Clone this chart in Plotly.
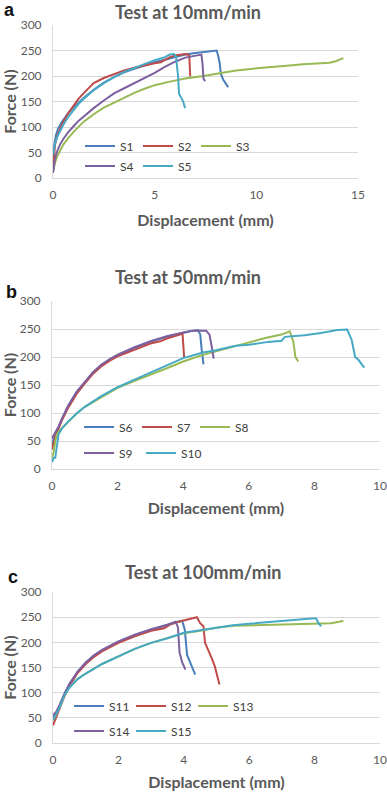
import plotly.graph_objects as go

W, H = 387, 792

# ---------------- Panel a: Test at 10mm/min ----------------
s1_x = [0, 0.03, 0.08, 0.15, 0.25, 0.4, 0.6, 0.8, 1, 1.25, 1.5, 2, 2.5, 3, 3.5, 4, 4.5, 5, 5.5, 6, 6.5, 7, 7.5, 8.05, 8.12, 8.2, 8.25, 8.3, 8.38, 8.5, 8.62]
s1_y = [38, 55, 70, 85, 97, 108, 120, 130, 138, 148, 157, 173, 187, 198, 207, 214, 221, 227, 232, 237, 242, 245, 247, 250, 240, 225, 205, 199, 192, 185, 178]
s2_x = [0, 0.05, 0.1, 0.2, 0.35, 0.5, 0.75, 1, 1.25, 1.5, 1.75, 2, 2.5, 3, 3.5, 4, 4.5, 5, 5.3, 5.5, 5.75, 6, 6.3, 6.5, 6.7, 6.72, 6.75]
s2_y = [20, 45, 65, 82, 98, 110, 127, 142, 155, 166, 176, 186, 196, 204, 211, 216, 221, 225, 227, 232, 237, 240, 242, 243, 241, 215, 199]
s3_x = [0, 0.05, 0.1, 0.2, 0.35, 0.5, 0.75, 1, 1.5, 2, 2.5, 3, 3.5, 4, 4.5, 5, 5.75, 6.5, 7.4, 8, 9, 10, 10.7, 11.5, 12.3, 13, 13.6, 13.9, 14.1, 14.28]
s3_y = [12, 22, 30, 42, 55, 65, 78, 90, 110, 125, 138, 148, 158, 167, 175, 182, 189, 195, 200, 204, 211, 215, 218, 220, 223, 225, 226, 229, 232, 235]
s4_x = [0, 0.05, 0.1, 0.2, 0.35, 0.5, 0.75, 1, 1.25, 1.5, 2, 2.5, 3, 3.5, 4, 4.5, 5, 5.5, 6, 6.5, 7, 7.3, 7.35, 7.4, 7.48]
s4_y = [10, 25, 38, 52, 66, 76, 90, 101, 112, 120, 137, 152, 166, 176, 186, 197, 206, 218, 228, 236, 239, 242, 225, 195, 190]
s5_x = [0, 0.03, 0.1, 0.2, 0.35, 0.5, 0.75, 1, 1.25, 1.5, 2, 2.5, 3, 3.5, 4, 4.5, 5, 5.5, 5.75, 5.95, 6.05, 6.15, 6.2, 6.3, 6.4, 6.5]
s5_y = [45, 55, 68, 80, 93, 104, 120, 133, 145, 155, 172, 186, 198, 208, 216, 224, 231, 237, 242, 243, 238, 200, 165, 158, 150, 137]

# ---------------- Panel b: Test at 50mm/min ----------------
s6_x = [0, 0.05, 0.1, 0.2, 0.3, 0.5, 0.75, 1, 1.25, 1.5, 1.75, 2, 2.5, 3, 3.5, 4, 4.2, 4.45, 4.52, 4.56, 4.6, 4.62]
s6_y = [40, 55, 62, 74, 89, 113, 137, 155, 172, 185, 195, 203, 216, 227, 236, 243, 246, 248, 240, 215, 195, 187]
s7_x = [0, 0.05, 0.1, 0.2, 0.3, 0.5, 0.75, 1, 1.25, 1.5, 1.75, 2, 2.5, 3, 3.3, 3.5, 3.9, 3.98, 4.01, 4.03]
s7_y = [35, 48, 58, 72, 87, 110, 134, 153, 170, 183, 193, 201, 213, 224, 228, 233, 240, 242, 215, 198]
s8_x = [0, 0.05, 0.1, 0.15, 0.25, 0.5, 0.75, 1, 1.5, 2, 2.5, 3, 3.5, 4, 4.5, 5, 5.5, 6, 6.5, 7, 7.25, 7.36, 7.42, 7.51]
s8_y = [20, 30, 50, 62, 70, 85, 99, 111, 128, 145, 157, 168, 180, 192, 202, 210, 218, 226, 234, 240, 246, 227, 200, 192]
s9_x = [0, 0.05, 0.1, 0.2, 0.3, 0.5, 0.75, 1, 1.25, 1.5, 1.75, 2, 2.5, 3, 3.5, 4, 4.3, 4.7, 4.8, 4.85, 4.9, 4.93]
s9_y = [55, 60, 65, 76, 90, 114, 138, 156, 173, 186, 196, 204, 217, 228, 237, 244, 247, 247, 240, 225, 205, 197]
s10_x = [0, 0.05, 0.1, 0.15, 0.2, 0.3, 0.5, 0.75, 1, 1.5, 2, 2.5, 3, 3.5, 4, 4.6, 5, 5.6, 6, 6.6, 7, 7.1, 7.7, 8.2, 8.7, 9.0, 9.14, 9.24, 9.34, 9.52]
s10_y = [12, 20, 20, 45, 62, 72, 85, 99, 111, 130, 146, 159, 172, 185, 198, 208, 212, 220, 222, 227, 229, 236, 239, 243, 248, 249, 230, 200, 195, 181]

# ---------------- Panel c: Test at 100mm/min ----------------
s11_x = [0, 0.1, 0.2, 0.35, 0.5, 0.75, 1, 1.25, 1.5, 2, 2.5, 3, 3.5, 3.75, 3.95, 4.03, 4.1, 4.2, 4.35]
s11_y = [50, 60, 74, 97, 116, 141, 159, 173, 184, 201, 214, 225, 235, 240, 243, 225, 175, 160, 136]
s12_x = [0, 0.1, 0.2, 0.35, 0.5, 0.75, 1, 1.25, 1.5, 2, 2.5, 3, 3.4, 3.6, 3.9, 4.1, 4.3, 4.4, 4.5, 4.6, 4.65, 4.75, 4.85, 4.95, 5.0, 5.09]
s12_y = [35, 52, 70, 93, 113, 139, 157, 171, 182, 199, 212, 223, 228, 236, 242, 245, 248, 250, 238, 232, 199, 185, 169, 152, 139, 116]
s13_x = [0, 0.2, 0.35, 0.5, 0.75, 1, 1.5, 2, 2.5, 3, 3.5, 4, 4.5, 5, 5.5, 6, 6.5, 7, 7.5, 8, 8.5, 8.75, 8.88]
s13_y = [45, 70, 95, 110, 127, 138, 157, 172, 187, 199, 208, 218, 223, 229, 233, 234, 235, 236, 237, 238, 238, 241, 243]
s14_x = [0, 0.1, 0.2, 0.35, 0.5, 0.75, 1, 1.25, 1.5, 2, 2.5, 3, 3.5, 3.75, 3.82, 3.87, 3.95, 4.05]
s14_y = [55, 62, 75, 98, 117, 142, 160, 174, 185, 202, 215, 226, 235, 241, 230, 180, 160, 146]
s15_x = [0, 0.2, 0.35, 0.5, 0.75, 1, 1.5, 2, 2.5, 3, 3.5, 4, 4.5, 5, 5.5, 6, 6.5, 7, 7.5, 8.0, 8.05, 8.12, 8.2]
s15_y = [45, 70, 95, 110, 127, 138, 157, 172, 187, 199, 208, 219, 224, 229, 234, 237, 240, 243, 246, 248, 247, 238, 232]

panel_titles = ["Test at 10mm/min", "Test at 50mm/min", "Test at 100mm/min"]
panel_letters = ["a", "b", "c"]
x_ranges = [[0, 15], [0, 10], [0, 10]]
x_dticks = [5, 2, 2]
colors = ["#4A7EBB", "#BE4B48", "#98B954", "#7D60A0", "#46AAC5"]

panels = [
    [("S1", s1_x, s1_y), ("S2", s2_x, s2_y), ("S3", s3_x, s3_y), ("S4", s4_x, s4_y), ("S5", s5_x, s5_y)],
    [("S6", s6_x, s6_y), ("S7", s7_x, s7_y), ("S8", s8_x, s8_y), ("S9", s9_x, s9_y), ("S10", s10_x, s10_y)],
    [("S11", s11_x, s11_y), ("S12", s12_x, s12_y), ("S13", s13_x, s13_y), ("S14", s14_x, s14_y), ("S15", s15_x, s15_y)],
]

# pixel geometry of each plot area: (left, right, top, bottom)
boxes = [(53, 358, 25, 178), (52, 380, 301, 469), (53, 380, 592, 743)]
title_pos = [(188, 12), (188, 277), (203, 572)]
letter_pos = [(9, 10), (11, 292), (13, 577)]
legend_rows = [(146, 166), (427, 453), (706, 731)]
legend_x = [80, 79, 69]
legend_ew = [(13, 13), (13, 17), (17, 17)]
xtitle_standoff = [13, 10, 10]

FONT = "Lato, 'Open Sans', sans-serif"
GRAY = "#595959"

fig = go.Figure()
layout = dict(
    width=W, height=H, margin=dict(l=0, r=0, t=0, b=0),
    paper_bgcolor="white", plot_bgcolor="white",
    font=dict(family=FONT, color=GRAY, size=12),
    annotations=[],
)

for i, series in enumerate(panels):
    n = i + 1
    xa = "x" if n == 1 else f"x{n}"
    ya = "y" if n == 1 else f"y{n}"
    leg1 = "legend" if i == 0 else f"legend{2 * i + 1}"
    leg2 = f"legend{2 * i + 2}"
    for j, (name, xs, ys) in enumerate(series):
        fig.add_trace(go.Scatter(
            x=xs, y=ys, name=name, mode="lines",
            line=dict(color=colors[j], width=2),
            xaxis=xa, yaxis=ya,
            legend=leg1 if j < 3 else leg2,
        ))
    l, r, t, b = boxes[i]
    xdom = [l / W, r / W]
    ydom = [1 - b / H, 1 - t / H]
    xkey = "xaxis" if n == 1 else f"xaxis{n}"
    ykey = "yaxis" if n == 1 else f"yaxis{n}"
    layout[xkey] = dict(
        domain=xdom, anchor=ya, range=x_ranges[i], dtick=x_dticks[i], tick0=0,
        showgrid=False, zeroline=False, showline=True, linecolor="#D9D9D9", linewidth=1,
        ticks="", ticklabelstandoff=6, tickfont=dict(size=12, color=GRAY),
        title=dict(text="<b>Displacement (mm)</b>", font=dict(size=16, color=GRAY), standoff=xtitle_standoff[i]),
        automargin=False, fixedrange=True,
    )
    layout[ykey] = dict(
        domain=ydom, anchor=xa, range=[0, 300], dtick=50, tick0=0,
        showgrid=True, gridcolor="#D9D9D9", gridwidth=1,
        zeroline=False, showline=True, linecolor="#D9D9D9", linewidth=1,
        ticks="", ticklabelstandoff=8, tickfont=dict(size=12, color=GRAY),
        title=dict(text="<b>Force (N)</b>", font=dict(size=16, color=GRAY), standoff=4),
        automargin=False, fixedrange=True,
    )
    row1, row2 = legend_rows[i]
    ew1, ew2 = legend_ew[i]
    for key, ypx, ew in ((leg1, row1, ew1), (leg2, row2, ew2)):
        layout[key] = dict(
            orientation="h", x=legend_x[i] / W, y=1 - ypx / H,
            xanchor="left", yanchor="middle",
            bgcolor="rgba(0,0,0,0)", borderwidth=0,
            entrywidth=ew, entrywidthmode="pixels",
            font=dict(size=12, color="#404040", family=FONT),
            itemclick=False, itemdoubleclick=False,
        )
    tx, ty = title_pos[i]
    layout["annotations"].append(dict(
        text=f"<b>{panel_titles[i]}</b>", x=tx / W, y=1 - ty / H,
        xref="paper", yref="paper", xanchor="center", yanchor="middle",
        showarrow=False, font=dict(size=18, color=GRAY, family=FONT),
    ))
    lx, ly = letter_pos[i]
    layout["annotations"].append(dict(
        text=f"<b>{panel_letters[i]}</b>", x=lx / W, y=1 - ly / H,
        xref="paper", yref="paper", xanchor="center", yanchor="middle",
        showarrow=False, font=dict(size=18, color="#111111", family="Arial, 'Liberation Sans', sans-serif"),
    ))

fig.update_layout(**layout)
fig.write_html("out.html", config={"displayModeBar": False},
               post_script="document.body.style.margin='0';")
